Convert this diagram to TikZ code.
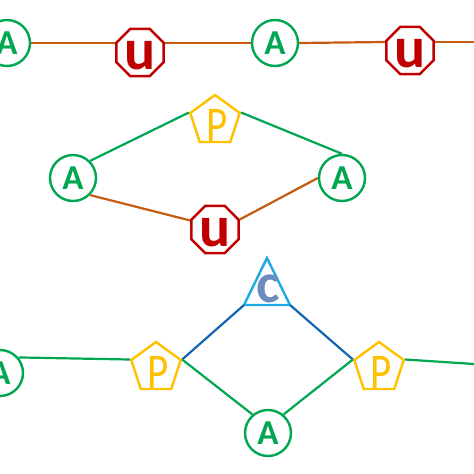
\documentclass[tikz,border=0pt]{standalone}
\usepackage{fontspec}
\setmainfont{Carlito}
\usetikzlibrary{shapes.geometric}
\definecolor{grn}{RGB}{0,166,81}
\definecolor{ured}{RGB}{192,0,0}
\definecolor{orn}{RGB}{197,90,17}
\definecolor{gld}{RGB}{255,192,0}
\definecolor{cyn}{RGB}{30,168,228}
\definecolor{cblu}{RGB}{108,140,192}
\definecolor{dblu}{RGB}{22,100,176}
\newcommand{\pletter}{\scalebox{0.82}[1]{P}}
\begin{document}
\begin{tikzpicture}[x=1pt,y=-1pt,
 acirc/.style={circle,draw=grn,line width=2.4pt,minimum size=46pt,inner sep=0pt,text=grn,font=\bfseries\fontsize{35}{35}\selectfont},
 octa/.style={regular polygon,regular polygon sides=8,draw=ured,line width=2.4pt,minimum size=51pt,inner sep=0pt},
 utxt/.style={text=ured,font=\bfseries\fontsize{58}{58}\selectfont,inner sep=0pt},
 penta/.style={regular polygon,regular polygon sides=5,draw=gld,line width=2.4pt,minimum size=52pt,inner sep=0pt},
 ptxt/.style={text=gld,font=\mdseries\fontsize{50}{50}\selectfont,inner sep=0pt},
 ctxt/.style={text=cblu,font=\bfseries\fontsize{56}{56}\selectfont,inner sep=0pt},
 tri/.style={draw=cyn,line width=2.4pt,line join=miter},
 gline/.style={draw=grn,line width=2.2pt},
 oline/.style={draw=orn,line width=2.2pt},
 bline/.style={draw=dblu,line width=2.2pt}]
\useasboundingbox (0,0) rectangle (474,474);
% top row
\node[acirc] (A1) at (7,43) {A};
\node[octa] (U1) at (140,52.5) {};
\node[utxt] (U1t) at ([yshift=-3pt]U1.center) {u};
\node[acirc] (A2) at (275,43) {A};
\node[octa] (U2) at (410,50.5) {};
\node[utxt] (U2t) at ([yshift=-3pt]U2.center) {u};
\coordinate (E1) at (474,42);
\draw[oline] (A1.east) -- (U1.west |- A1.east);
\draw[oline] (U1.east |- A1.east) -- (A2.west);
\draw[oline] (A2.east) -- (U2.west |- E1);
\draw[oline] (U2.east |- E1) -- (E1);
% middle
\node[penta] (P1) at (215,121) {};
\node[ptxt] (P1t) at ([xshift=2pt,yshift=-4pt]P1.center) {\pletter};
\node[acirc] (A3) at (73,178) {A};
\node[acirc] (A4) at (342,178) {A};
\node[octa] (U3) at (215,229.5) {};
\node[utxt] (U3t) at ([yshift=-3pt]U3.center) {u};
\draw[gline] (A3.45) -- (P1.162);
\draw[gline] (P1.18) -- (A4.north);
\draw[oline] (A3.-45) -- (U3.160);
\draw[oline] (U3.22) -- (A4.west);
% bottom
\coordinate (T0) at (267,258);
\coordinate (TL) at (244,305);
\coordinate (TR) at (290,305);
\draw[tri] (T0) -- (TL) -- (TR) -- cycle;
\node[ctxt] (Ct) at (268.5,289) {c};
\node[penta] (P2) at (156,368) {};
\node[ptxt] (P2t) at ([xshift=2pt,yshift=-4pt]P2.center) {\pletter};
\node[penta] (P3) at (379,368) {};
\node[ptxt] (P3t) at ([xshift=2pt,yshift=-4pt]P3.center) {\pletter};
\node[acirc] (A5) at (268,433) {A};
\node[acirc] (A6) at (0,373) {A};
\coordinate (E2) at (474,364);
\draw[gline] (A6.40) -- (P2.162);
\draw[bline] (P2.18) -- (TL);
\draw[bline] (TR) -- (P3.162);
\draw[gline] (P2.18) -- (A5.130);
\draw[gline] (A5.50) -- (P3.162);
\draw[gline] (P3.18) -- (E2);
\end{tikzpicture}
\end{document}
